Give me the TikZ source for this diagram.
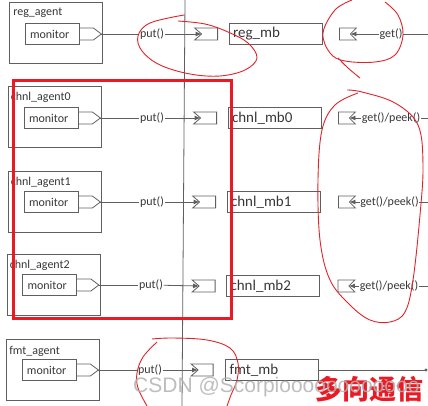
\documentclass[tikz,border=0pt]{standalone}
\usepackage{fontspec}
\setmainfont{Carlito}
\setsansfont{Liberation Sans}
\newfontfamily\cjk{Noto Sans CJK SC}
\usetikzlibrary{arrows.meta,calc,positioning}
\definecolor{inkgray}{RGB}{95,95,95}
\definecolor{textgray}{RGB}{55,55,55}
\definecolor{penred}{RGB}{225,35,40}
\definecolor{markred}{RGB}{235,25,35}

\begin{document}
\begin{tikzpicture}[
    x=1pt, y=-1pt,
    wire/.style={draw=inkgray, line width=0.8pt},
    feed/.style={wire, -{Latex[length=6pt,width=5pt]}},
    agent/.style={rectangle, draw=inkgray, line width=0.8pt, minimum width=93pt, minimum height=61pt, inner sep=0pt},
    agentlbl/.style={anchor=north west, inner sep=0pt, text=textgray, font=\fontsize{12}{12}\selectfont},
    monitor/.style={rectangle, draw=inkgray, line width=0.8pt, minimum height=21pt, text width=44pt, inner xsep=5pt, inner ysep=0pt, align=left, text=textgray, font=\fontsize{12}{12}\selectfont},
    mb/.style={rectangle, draw=inkgray, line width=0.8pt, minimum height=21pt, text width=85pt, inner xsep=4pt, inner ysep=0pt, align=left, text=textgray, font=\fontsize{15}{15}\selectfont},
    call/.style={fill=white, inner xsep=0.5pt, inner ysep=1pt, text=textgray, font=\fontsize{12}{12}\selectfont},
    redpen/.style={draw=penred, line width=0.9pt}
]
    \useasboundingbox (0,0) rectangle (428,406);

    % Divider
    \coordinate (vtop) at (185,0);
    \coordinate (vbot) at (182,406);
    \draw[wire] (vtop) -- (vbot);

    % Agents
    \node[agent] (rega) at (56,32.5) {};
    \node[agent] (ch0a) at (54.5,117) {};
    \node[agent] (ch1a) at (54.5,201.5) {};
    \node[agent] (ch2a) at (53.5,285) {};
    \node[agent] (fmta) at (53,370) {};
    \node[agentlbl] (regal) at ([shift={(4,6)}]rega.north west) {reg\_agent};
    \node[agentlbl] (ch0al) at ([shift={(3,6)}]ch0a.north west) {chnl\_agent0};
    \node[agentlbl] (ch1al) at ([shift={(3,6)}]ch1a.north west) {chnl\_agent1};
    \node[agentlbl] (ch2al) at ([shift={(3,6)}]ch2a.north west) {chnl\_agent2};
    \node[agentlbl] (fmtal) at ([shift={(3,7)}]fmta.north west) {fmt\_agent};

    % Monitors
    \node[monitor] (regm) at (52,34) {monitor};
    \node[monitor] (ch0m) at (51,118) {monitor};
    \node[monitor] (ch1m) at (51,202) {monitor};
    \node[monitor] (ch2m) at (49.5,285) {monitor};
    \node[monitor] (fmtm) at (49,370) {monitor};
    \draw[wire] ([yshift=6]regm.east) -- ++(14,0) -- ++(8,6) -- ++(-8,6) -- ++(-14,0);
    \draw[wire] ([yshift=6]ch0m.east) -- ++(14,0) -- ++(8,6) -- ++(-8,6) -- ++(-14,0);
    \draw[wire] ([yshift=6]ch1m.east) -- ++(14,0) -- ++(8,6) -- ++(-8,6) -- ++(-14,0);
    \draw[wire] ([yshift=6]ch2m.east) -- ++(14,0) -- ++(8,6) -- ++(-8,6) -- ++(-14,0);
    \draw[wire] ([yshift=6]fmtm.east) -- ++(14,0) -- ++(8,6) -- ++(-8,6) -- ++(-14,0);
    \coordinate (regp) at ([xshift=22]regm.east);
    \coordinate (ch0p) at ([xshift=22]ch0m.east);
    \coordinate (ch1p) at ([xshift=22]ch1m.east);
    \coordinate (ch2p) at ([xshift=22]ch2m.east);
    \coordinate (fmtp) at ([xshift=22]fmtm.east);

    % Mailboxes
    \node[mb] (regmb) at (275.5,34) {reg\_mb};
    \node[mb] (ch0mb) at (274.5,118) {chnl\_mb0};
    \node[mb] (ch1mb) at (273.5,202) {chnl\_mb1};
    \node[mb] (ch2mb) at (273,286) {chnl\_mb2};
    \node[mb] (fmtmb) at (272,370) {fmt\_mb};

    % put ports
    \draw[wire] ([shift={(-11,-6)}]regmb.west) -- ++(-23,0) -- ++(7,6) -- ++(-7,6) -- ++(23,0) -- cycle;
    \draw[wire] ([shift={(-11,-6)}]ch0mb.west) -- ++(-23,0) -- ++(7,6) -- ++(-7,6) -- ++(23,0) -- cycle;
    \draw[wire] ([shift={(-11,-6)}]ch1mb.west) -- ++(-23,0) -- ++(7,6) -- ++(-7,6) -- ++(23,0) -- cycle;
    \draw[wire] ([shift={(-11,-6)}]ch2mb.west) -- ++(-23,0) -- ++(7,6) -- ++(-7,6) -- ++(23,0) -- cycle;
    \draw[wire] ([shift={(-12,-6)}]fmtmb.west) -- ++(-22,0) -- ++(7,6) -- ++(-7,6) -- ++(22,0) -- cycle;
    \coordinate (regpv) at ([xshift=-27]regmb.west);
    \coordinate (ch0pv) at ([xshift=-27]ch0mb.west);
    \coordinate (ch1pv) at ([xshift=-27]ch1mb.west);
    \coordinate (ch2pv) at ([xshift=-27]ch2mb.west);
    \coordinate (fmtpv) at ([xshift=-27]fmtmb.west);

    % get ports
    \draw[wire] ([shift={(17,-6)}]regmb.east) -- ++(17,0) -- ++(-6,6) -- ++(6,6) -- ++(-17,0) -- cycle;
    \draw[wire] ([shift={(17,-6)}]ch0mb.east) -- ++(17,0) -- ++(-6,6) -- ++(6,6) -- ++(-17,0) -- cycle;
    \draw[wire] ([shift={(18,-6)}]ch1mb.east) -- ++(17,0) -- ++(-6,6) -- ++(6,6) -- ++(-17,0) -- cycle;
    \draw[wire] ([shift={(18,-6)}]ch2mb.east) -- ++(17,0) -- ++(-6,6) -- ++(6,6) -- ++(-17,0) -- cycle;
    \coordinate (regv) at ([xshift=28]regmb.east);
    \coordinate (ch0v) at ([xshift=28]ch0mb.east);
    \coordinate (ch1v) at ([xshift=29]ch1mb.east);
    \coordinate (ch2v) at ([xshift=29]ch2mb.east);

    % put() calls
    \node[call] (regput) at (152,34) {put()};
    \node[call] (ch0put) at (152,118) {put()};
    \node[call] (ch1put) at (152,202) {put()};
    \node[call] (ch2put) at (151,285) {put()};
    \node[call] (fmtput) at (150,370) {put()};
    \draw[wire] (regp) -- (regput);
    \draw[wire] (ch0p) -- (ch0put);
    \draw[wire] (ch1p) -- (ch1put);
    \draw[wire] (ch2p) -- (ch2put);
    \draw[wire] (fmtp) -- (fmtput);
    \draw[feed] (regput) -- (regpv);
    \draw[feed] (ch0put) -- (ch0pv);
    \draw[feed] (ch1put) -- (ch1pv);
    \draw[feed] (ch2put) -- (ch2pv);
    \draw[feed] (fmtput) -- (fmtpv);

    % get() calls
    \node[call] (regget) at (391,34) {get()};
    \node[call] (ch0get) at (391,118) {get()/peek()};
    \node[call] (ch1get) at (389.5,202) {get()/peek()};
    \node[call] (ch2get) at (389,286) {get()/peek()};
    \coordinate (regr) at (428,34);
    \coordinate (ch0r) at (428,118);
    \coordinate (ch1r) at (428,202);
    \coordinate (ch2r) at (428,286);
    \coordinate (fmtr) at (426,370);
    \draw[wire] (regr) -- (regget);
    \draw[wire] (ch0r) -- (ch0get);
    \draw[wire] (ch1r) -- (ch1get);
    \draw[wire] (ch2r) -- (ch2get);
    \draw[feed] (regget) -- (regv);
    \draw[feed] (ch0get) -- (ch0v);
    \draw[feed] (ch1get) -- (ch1v);
    \draw[feed] (ch2get) -- (ch2v);
    \draw[wire] (fmtmb) -- (fmtr);
    \fill[inkgray] (fmtr) circle (1.6);

    % Red pen marks
    \draw[redpen] plot[smooth, tension=0.6] coordinates {(184,15) (150,23) (138,36) (142,51) (160,65) (190,74) (220,76) (245,70) (257,58) (248,43) (228,32) (205,24) (178,21)};
    \draw[redpen] plot[smooth, tension=0.6] coordinates {(352,0) (335,10) (323,33) (330,53) (345,61) (375,62) (395,55) (403,35) (398,15) (385,2)};
    \draw[redpen] plot[smooth, tension=0.6] coordinates {(338,58) (348,68) (360,78)};
    \draw[redpen] plot[smooth, tension=0.6] coordinates {(347,90) (362,92) (395,103) (418,125) (423,165) (420,215) (413,280) (405,312) (390,322) (370,320) (350,305) (330,280) (320,240) (318,180) (322,130) (335,105) (358,93)};
    \draw[redpen] plot[smooth, tension=0.6] coordinates {(152,339) (173,338) (207,340) (230,348) (238,363) (237,380) (231,395) (227,406)};
    \draw[redpen] plot[smooth, tension=0.6] coordinates {(157,342) (143,357) (137,373) (138,388) (147,406)};
    \draw[draw=markred, line width=3pt] (13,81) rectangle (231,318);

    % Note and watermark
    \node[inner sep=0pt, text=markred, font=\cjk\bfseries\fontsize{27}{27}\selectfont] (note) at (369,389) {多向通信};
    \node[anchor=west, inner sep=0pt, text=gray!60, opacity=0.85, font=\sffamily\fontsize{21}{21}\selectfont] (wm) at (133,387) {CSDN @Scorpioooooooooooo};
\end{tikzpicture}
\end{document}
